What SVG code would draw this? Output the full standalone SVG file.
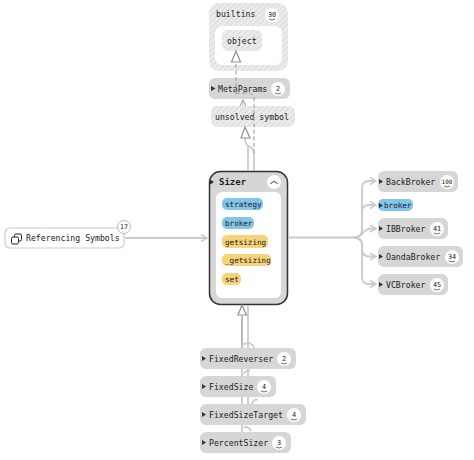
<svg xmlns="http://www.w3.org/2000/svg" width="474" height="460" viewBox="0 0 474 460">
<style>
text{font-family:"DejaVu Sans Mono","Liberation Mono",monospace;font-size:8.2px;fill:#222}
.n{fill:#d6d6d6}
.h{fill:url(#hatch)}
.c{fill:none;stroke:#cbcbcb;stroke-width:1.8}
.k{fill:none;stroke:#b4b4b4;stroke-width:1.8}
.d{fill:none;stroke:#a0a0a0;stroke-width:1.1;stroke-dasharray:4 2.5}
.tri{fill:#fff;stroke:#909090;stroke-width:1.2}
.b{fill:#fff}
.bt{font-size:6.8px;text-anchor:middle}
.exp{fill:#333}
.blue{fill:#82c4ea}
.yel{fill:#f6d27a}
.pt{font-size:7.6px}
.s{fill:none;stroke:#333;stroke-width:.7}
</style>
<defs>
<pattern id="hatch" width="4" height="4" patternUnits="userSpaceOnUse" patternTransform="rotate(-45)">
<rect width="4" height="4" fill="#ececec"/><rect width="4" height="1.300" fill="#dcdcdc"/>
</pattern>
<marker id="ar" markerWidth="9" markerHeight="9" refX="7" refY="4" orient="auto" markerUnits="userSpaceOnUse"><path d="M1 .5L7 4L1 7.5" fill="none" stroke="#cbcbcb" stroke-width="1.600"/></marker>
</defs>
<g id="builtins">
<rect class="h" x="209" y="3" width="79" height="68" rx="10"/>
<rect class="b" x="215" y="26" width="67" height="39" rx="7"/>
<text x="216" y="17">builtins</text>
<circle class="b" cx="272" cy="15" r="7"/><text class="bt" x="272" y="16.500">30</text>
<path class="s" d="M269 19Q272 21 275 19"/>
</g>
<g id="object">
<rect class="h" x="222" y="30" width="40" height="21" rx="6"/>
<text x="227" y="44">object</text>
</g>
<g id="metaparams">
<rect class="n" x="209" y="78" width="81" height="21" rx="6"/>
<path class="exp" d="M211 86L215.500 88.500L211 91Z"/>
<text x="218" y="92">MetaParams</text>
<circle class="b" cx="278" cy="89" r="7"/><text class="bt" x="278" y="90.500">2</text>
<path class="s" d="M275 93Q278 95 281 93"/>
</g>
<g id="unsolved">
<rect class="h" x="211" y="106" width="84" height="21" rx="6"/>
<text x="215" y="120">unsolved symbol</text>
</g>
<g id="sizer">
<rect x="209.500" y="171.500" width="78" height="133" rx="11" fill="#d6d6d6" stroke="#333" stroke-width="1.500"/>
<rect class="b" x="216" y="192" width="65" height="106" rx="6"/>
<path class="exp" d="M209.500 179L214 182L209.500 185Z"/>
<text x="219" y="185" style="font-weight:700;font-size:9px">Sizer</text>
<circle class="b" cx="274" cy="182" r="7"/>
<path class="s" d="M270.500 184Q274 179 277.500 184" style="stroke-width:1"/>
<rect class="blue" x="222" y="198" width="41" height="12" rx="5"/><text class="pt" x="225" y="207">strategy</text>
<rect class="blue" x="222" y="217" width="32" height="12" rx="5"/><text class="pt" x="225" y="226">broker</text>
<rect class="yel" x="222" y="235" width="46" height="13" rx="5"/><text class="pt" x="225" y="245">getsizing</text>
<rect class="yel" x="222" y="254" width="49" height="12" rx="5"/><text class="pt" x="225" y="263">_getsizing</text>
<rect class="yel" x="222" y="273" width="19" height="12" rx="5"/><text class="pt" x="225" y="282">set</text>
</g>
<g id="fixedreverser">
<rect class="n" x="200" y="348" width="96" height="21" rx="6"/>
<path class="exp" d="M202 356L206 358.500L202 361Z"/>
<text x="209" y="362">FixedReverser</text>
<circle class="b" cx="284" cy="359" r="7"/><text class="bt" x="284" y="360.500">2</text>
<path class="s" d="M281 363Q284 365 287 363"/>
</g>
<g id="fixedsize">
<rect class="n" x="200" y="376" width="76" height="21" rx="6"/>
<path class="exp" d="M202 384L206 386.500L202 389Z"/>
<text x="209" y="390">FixedSize</text>
<circle class="b" cx="264" cy="387" r="7"/><text class="bt" x="264" y="388.500">4</text>
<path class="s" d="M261 391Q264 393 267 391"/>
</g>
<g id="fixedsizetarget">
<rect class="n" x="200" y="404" width="106" height="21" rx="6"/>
<path class="exp" d="M202 412L206 414.500L202 417Z"/>
<text x="209" y="418">FixedSizeTarget</text>
<circle class="b" cx="294" cy="415" r="7"/><text class="bt" x="294" y="416.500">4</text>
<path class="s" d="M291 419Q294 421 297 419"/>
</g>
<g id="percentsizer">
<rect class="n" x="200" y="432" width="91" height="21" rx="6"/>
<path class="exp" d="M202 440L206 442.500L202 445Z"/>
<text x="209" y="446">PercentSizer</text>
<circle class="b" cx="279" cy="443" r="7"/><text class="bt" x="279" y="444.500">3</text>
<path class="s" d="M276 447Q279 449 282 447"/>
</g>
<g id="backbroker">
<rect class="n" x="378" y="171" width="80" height="21" rx="6"/>
<path class="exp" d="M379 179L383 181.500L379 184Z"/>
<text x="386" y="185">BackBroker</text>
<circle class="b" cx="447" cy="182" r="7"/><text class="bt" x="447" y="183.500" style="font-size:6px">100</text>
<path class="s" d="M444 186Q447 188 450 186"/>
</g>
<g id="broker">
<rect class="blue" x="378" y="199" width="35" height="12" rx="5"/>
<path class="exp" d="M379 203L383 205.500L379 208Z"/>
<text class="pt" x="384" y="208">broker</text>
</g>
<g id="ibbroker">
<rect class="n" x="378" y="218" width="70" height="21" rx="6"/>
<path class="exp" d="M379 226L383 228.500L379 231Z"/>
<text x="386" y="232">IBBroker</text>
<circle class="b" cx="437" cy="229" r="7"/><text class="bt" x="437" y="230.500">41</text>
<path class="s" d="M434 233Q437 235 440 233"/>
</g>
<g id="oandabroker">
<rect class="n" x="378" y="246" width="85" height="21" rx="6"/>
<path class="exp" d="M379 254L383 256.500L379 259Z"/>
<text x="386" y="260">OandaBroker</text>
<circle class="b" cx="452" cy="257" r="7"/><text class="bt" x="452" y="258.500">34</text>
<path class="s" d="M449 261Q452 263 455 261"/>
</g>
<g id="vcbroker">
<rect class="n" x="378" y="274" width="70" height="21" rx="6"/>
<path class="exp" d="M379 282L383 284.500L379 287Z"/>
<text x="386" y="288">VCBroker</text>
<circle class="b" cx="437" cy="285" r="7"/><text class="bt" x="437" y="286.500">45</text>
<path class="s" d="M434 289Q437 291 440 289"/>
</g>
<g id="referencing">
<rect x="5" y="228" width="119" height="20" rx="5" fill="#fff" stroke="#ccc" stroke-width="1.200"/>
<rect x="14.500" y="234" width="7" height="7" rx="1.500" fill="none" stroke="#222" stroke-width="1"/>
<rect x="11.500" y="237" width="7" height="7" rx="1.500" fill="#fff" stroke="#222" stroke-width="1"/>
<text x="26" y="241">Referencing Symbols</text>
<circle cx="124" cy="227" r="6.500" fill="#fff" stroke="#aaa" stroke-width=".8"/><text class="bt" x="124" y="229.300" style="font-size:6.500px">17</text>
</g>
<g id="connectors">
<path class="c" d="M125 238H207" marker-end="url(#ar)"/>
<path class="c" d="M288 237.500H354Q362 237.500 362 230V188Q362 181 369 181H376" marker-end="url(#ar)"/>
<path class="c" d="M354 237.500Q362 237.500 362 230V212Q362 205 369 205H376" marker-end="url(#ar)"/>
<path class="c" d="M354 237.500Q360 237 364 232Q367 228.500 371 228.500H376" marker-end="url(#ar)"/>
<path class="c" d="M354 237.500Q360 238 362 243V250Q363 256.500 369 256.500H376" marker-end="url(#ar)"/>
<path class="c" d="M354 237.500Q362 237.500 362 245V277Q362 284 369 284H376" marker-end="url(#ar)"/>
<path class="c" d="M248 171V146"/>
<path class="c" d="M245 138Q245 145 250 147Q254 148 254 155V171"/>
<path class="k" d="M242 348V316"/>
<path class="c" d="M248 348V305"/>
<path class="c" d="M242 345Q248 342 251 344Q254 345 254 348"/>
<path class="c" d="M242 376V369M248 376V369M244 374Q246 369 250 371"/>
<path class="c" d="M242 404V397M248 404V397M252 404Q254 398 258 400"/>
<path class="c" d="M242 432V425M244 428Q248 425 251 431"/>
<path class="d" d="M236 94V63"/>
<path class="d" d="M236 94Q238 93 246 93Q254 93 254 99V155"/>
<path class="c" d="M243 99V106" style="stroke-width:1.300"/>
<path class="tri" d="M236 51L231.500 62H240.500Z"/>
<path class="tri" d="M245 127L241 138H250Z"/>
<path class="tri" d="M242 305L238 315H246.500Z"/>
<path d="M240 106L243 100L246 106" fill="none" stroke="#999" stroke-width="1"/>
</g>
</svg>
